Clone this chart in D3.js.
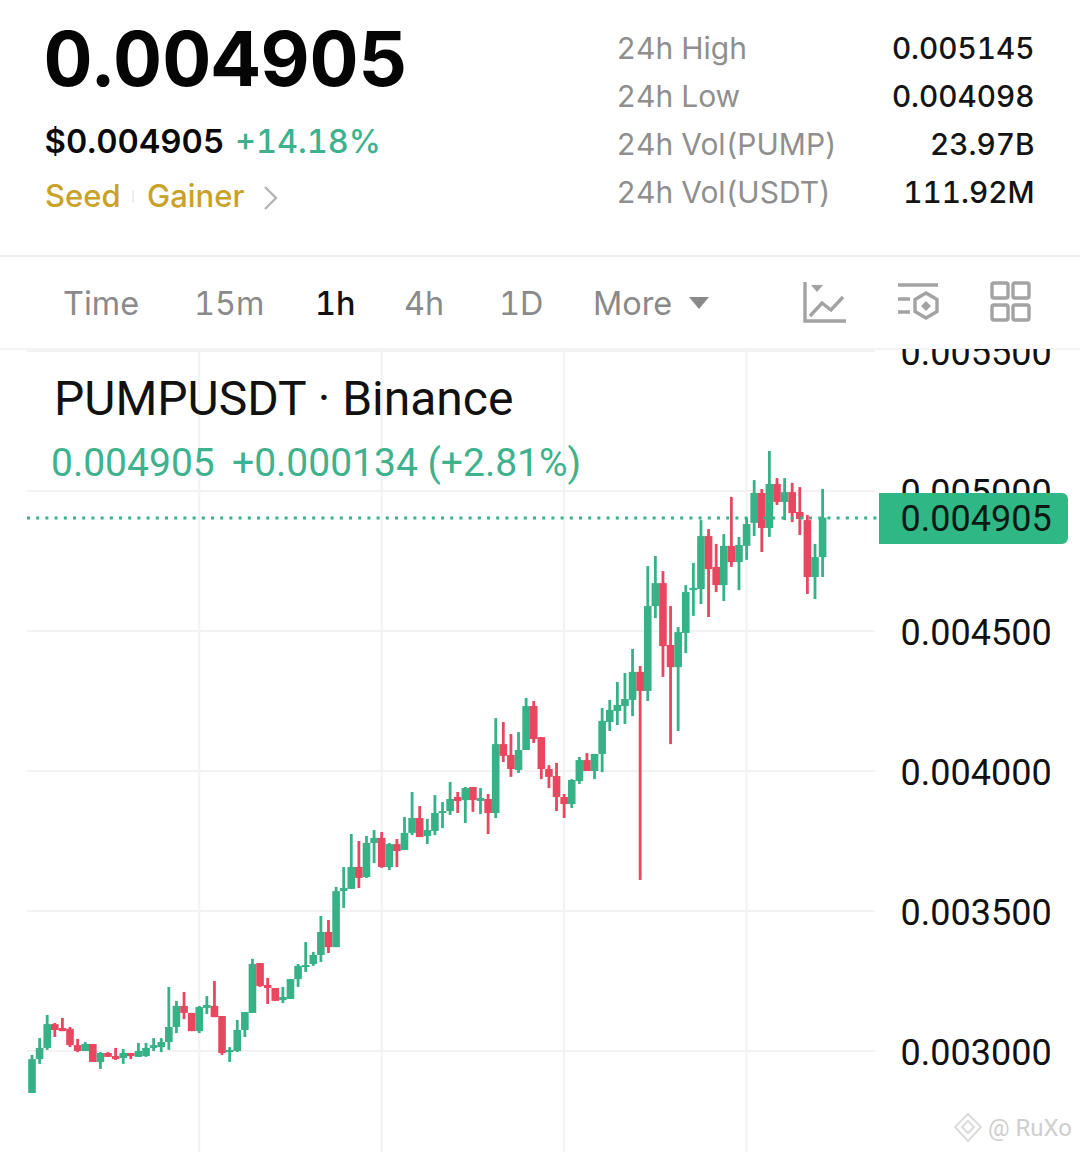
<!DOCTYPE html>
<html><head><meta charset="utf-8">
<script src="https://cdn.jsdelivr.net/npm/d3@7/dist/d3.min.js"></script>
<style>html,body{margin:0;padding:0;background:#fff}svg{display:block}text{font-variant-numeric:tabular-nums}</style>
</head><body><svg id="c" width="1080" height="1152"></svg>
<script>
const openP=[0.002850,0.002971,0.003011,0.003096,0.003082,0.003079,0.003021,0.003000,0.003025,0.002961,0.002993,0.002982,0.002975,0.002993,0.002979,0.002982,0.003011,0.003014,0.003032,0.003086,0.003161,0.003136,0.003071,0.003154,0.003161,0.003125,0.002996,0.003000,0.003075,0.003136,0.003314,0.003236,0.003225,0.003182,0.003186,0.003257,0.003300,0.003311,0.003343,0.003425,0.003371,0.003571,0.003579,0.003657,0.003621,0.003743,0.003761,0.003657,0.003739,0.003718,0.003779,0.003832,0.003768,0.003786,0.003850,0.003857,0.003907,0.003896,0.003943,0.003893,0.003900,0.003850,0.004096,0.004057,0.004004,0.004075,0.004232,0.004121,0.004007,0.003982,0.003907,0.003882,0.003964,0.004039,0.004000,0.004061,0.004175,0.004214,0.004232,0.004254,0.004354,0.004286,0.004589,0.004671,0.004450,0.004371,0.004493,0.004646,0.004650,0.004839,0.004729,0.004664,0.004804,0.004746,0.004804,0.004886,0.004993,0.004868,0.005025,0.004961,0.004996,0.004925,0.004896,0.004693,0.004764];
const highP=[0.002986,0.003046,0.003129,0.003100,0.003118,0.003086,0.003043,0.003032,0.003025,0.002996,0.002996,0.003011,0.003007,0.002993,0.003029,0.003029,0.003046,0.003046,0.003229,0.003179,0.003211,0.003136,0.003161,0.003196,0.003250,0.003125,0.003014,0.003111,0.003139,0.003329,0.003314,0.003261,0.003225,0.003229,0.003257,0.003311,0.003389,0.003354,0.003482,0.003468,0.003586,0.003657,0.003775,0.003750,0.003768,0.003789,0.003782,0.003743,0.003757,0.003836,0.003925,0.003875,0.003829,0.003914,0.003889,0.003961,0.003925,0.003943,0.003943,0.003939,0.003918,0.004189,0.004175,0.004132,0.004139,0.004261,0.004250,0.004121,0.004021,0.004029,0.003918,0.003971,0.004050,0.004064,0.004061,0.004225,0.004254,0.004318,0.004350,0.004436,0.004375,0.004732,0.004768,0.004714,0.004589,0.004514,0.004664,0.004743,0.004896,0.004864,0.004811,0.004846,0.004979,0.004836,0.004904,0.005039,0.005007,0.005143,0.005046,0.005046,0.005029,0.005014,0.004914,0.004811,0.005007];
const lowP=[0.002850,0.002954,0.003004,0.003050,0.003071,0.003014,0.002996,0.003000,0.002961,0.002936,0.002979,0.002968,0.002954,0.002971,0.002979,0.002979,0.003000,0.002996,0.003004,0.003064,0.003114,0.003071,0.003064,0.003132,0.003121,0.002986,0.002961,0.002996,0.003050,0.003136,0.003229,0.003168,0.003179,0.003171,0.003186,0.003229,0.003282,0.003304,0.003318,0.003350,0.003371,0.003511,0.003579,0.003582,0.003618,0.003671,0.003654,0.003646,0.003657,0.003718,0.003771,0.003764,0.003739,0.003771,0.003796,0.003843,0.003850,0.003814,0.003854,0.003846,0.003775,0.003832,0.004032,0.003979,0.003993,0.004075,0.004100,0.003971,0.003939,0.003857,0.003832,0.003868,0.003954,0.004000,0.003971,0.003996,0.004143,0.004164,0.004168,0.004196,0.003611,0.004250,0.004546,0.004336,0.004096,0.004143,0.004421,0.004554,0.004596,0.004550,0.004639,0.004607,0.004729,0.004646,0.004754,0.004839,0.004782,0.004836,0.004950,0.004896,0.004889,0.004843,0.004632,0.004614,0.004693];
const closeP=[0.002971,0.003011,0.003096,0.003075,0.003071,0.003021,0.003000,0.003025,0.002961,0.002993,0.002979,0.002971,0.002993,0.002982,0.003000,0.003011,0.003021,0.003032,0.003086,0.003161,0.003136,0.003071,0.003157,0.003164,0.003121,0.002993,0.003004,0.003075,0.003139,0.003311,0.003232,0.003225,0.003179,0.003193,0.003257,0.003304,0.003307,0.003343,0.003425,0.003371,0.003571,0.003582,0.003657,0.003618,0.003743,0.003761,0.003657,0.003739,0.003714,0.003779,0.003832,0.003764,0.003789,0.003850,0.003857,0.003900,0.003893,0.003939,0.003896,0.003904,0.003850,0.004096,0.004054,0.004007,0.004075,0.004232,0.004114,0.004007,0.003979,0.003907,0.003882,0.003968,0.004039,0.004000,0.004061,0.004179,0.004218,0.004236,0.004257,0.004354,0.004286,0.004589,0.004671,0.004446,0.004371,0.004496,0.004639,0.004654,0.004839,0.004721,0.004664,0.004804,0.004746,0.004807,0.004882,0.004993,0.004868,0.005025,0.004961,0.004996,0.004921,0.004900,0.004693,0.004764,0.004905];
const yTicks=[0.003,0.0035,0.004,0.0045,0.005,0.0055];
const verticalEvery=[22,46,70,94];
const lastPrice=0.004905;
const statLabels=["24h High","24h Low","24h Vol(PUMP)","24h Vol(USDT)"];
const statValues=["0.005145","0.004098","23.97B","111.92M"];
const tabs=["Time","15m","1h","4h","1D","More"];
const tabX=[63,194,315,404,499,593];

const FONT="Roboto, sans-serif", HEAD="Inter, Roboto, sans-serif";
const GREEN="#37B287", RED="#E8475F", GRID="#f2f2f2";
const svg=d3.select("#c");
const T=(s,x,y,size,fill,opt={})=>svg.append("text").text(s).attr("x",x).attr("y",y)
  .attr("font-family",opt.f||HEAD).attr("font-size",size).attr("fill",fill)
  .attr("font-weight",opt.w||400).attr("text-anchor",opt.a||"start");

// header
T("0.004905",43.5,86,76,"#050505",{w:700});
T("$0.004905",44.5,153,33,"#0a0a0a",{w:600});
T("+14.18%",235,153,32.4,"#3DB28C",{w:500});
T("Seed",45,207,31,"#C9A227",{w:500});
svg.append("line").attr("x1",133).attr("x2",133).attr("y1",190).attr("y2",203).attr("stroke","#eee").attr("stroke-width",2);
T("Gainer",147,207,31,"#C9A227",{w:500});
svg.append("path").attr("d","M265 187L276 198L265 209").attr("fill","none").attr("stroke","#b5b5b5").attr("stroke-width",2.4);
statLabels.forEach((s,i)=>{
  T(s,616.5,59+48*i,30,"#8f8f8f",{f:HEAD});
  T(statValues[i],1034.5,59+48*i,29.7,"#141414",{a:"end",w:500});
});
svg.append("line").attr("x1",0).attr("x2",1080).attr("y1",256).attr("y2",256).attr("stroke","#eeeeee").attr("stroke-width",2);

// tabs
tabs.forEach((s,i)=>T(s,tabX[i],315,32.4,s==="1h"?"#111":"#8a8a8a",{w:s==="1h"?500:400}));
svg.append("path").attr("d","M689 297H709L699 309Z").attr("fill","#8a8a8a");
const ic=svg.append("g").attr("fill","none").attr("stroke","#a3a3a3").attr("stroke-width",3.4);
ic.append("path").attr("d","M805 282V321H846M810 316L822 303L831 310L843 297");
ic.append("path").attr("d","M811 285H823L817 292Z").attr("fill","#a3a3a3").attr("stroke","none");
ic.append("path").attr("d","M898 285H938M898 299H910M898 312H910");
ic.append("path").attr("d","M926 293L937 299.5V311.5L926 318L915 311.5V299.5Z");
ic.append("path").attr("d","M926 301L931 306L926 311L921 306Z").attr("fill","#a3a3a3").attr("stroke","none");
[[992,283],[1013,283],[992,305],[1013,305]].forEach(p=>ic.append("rect").attr("x",p[0]).attr("y",p[1]).attr("width",16).attr("height",15).attr("rx",2));

// chart
const y=d3.scaleLinear().domain([0.003,0.005]).range([1051,491]);
const x=d3.scaleLinear().domain([0,openP.length-1]).range([32,822.6]);
const defs=svg.append("defs");
defs.append("clipPath").attr("id","plot").append("rect").attr("x",0).attr("y",349).attr("width",1080).attr("height",803);
defs.append("clipPath").attr("id","plotL").append("rect").attr("x",27).attr("y",349).attr("width",1053).attr("height",803);

svg.append("line").attr("x1",0).attr("x2",1080).attr("y1",349).attr("y2",349).attr("stroke","#f4f4f4").attr("stroke-width",2);
const plot=svg.append("g").attr("clip-path","url(#plot)");
plot.append("g").selectAll("line").data(verticalEvery).join("line")
  .attr("x1",d=>x(d)).attr("x2",d=>x(d)).attr("y1",349).attr("y2",1152).attr("stroke",GRID).attr("stroke-width",2);
const axis=d3.axisRight(y).tickValues(yTicks).tickFormat(d3.format(".6f")).tickSize(0).tickPadding(0);
const gA=plot.append("g").attr("transform","translate(900.5,0.8)").call(axis);
gA.select(".domain").remove();
gA.selectAll("text").attr("font-family",FONT).attr("font-size",36).attr("fill","#111").attr("dy","0.36em").attr("x",0);
plot.append("g").selectAll("line").data(yTicks).join("line")
  .attr("x1",27).attr("x2",875).attr("y1",d=>y(d)).attr("y2",d=>y(d)).attr("stroke",GRID).attr("stroke-width",2);

const idx=d3.range(openP.length);
const candles=svg.append("g").attr("clip-path","url(#plotL)");
const col=i=>closeP[i]>=openP[i]?GREEN:RED;
candles.selectAll("line").data(idx).join("line")
  .attr("x1",i=>x(i)).attr("x2",i=>x(i)).attr("y1",i=>y(highP[i])).attr("y2",i=>y(lowP[i]))
  .attr("stroke",i=>col(i)).attr("stroke-width",2.8);
candles.selectAll("rect").data(idx).join("rect")
  .attr("x",i=>x(i)-3.8).attr("width",7.6)
  .attr("y",i=>Math.min(y(openP[i]),y(closeP[i])))
  .attr("height",i=>Math.max(2,Math.abs(y(openP[i])-y(closeP[i]))))
  .attr("fill",i=>col(i));

svg.append("line").attr("x1",27).attr("x2",879).attr("y1",y(lastPrice)+.5).attr("y2",y(lastPrice)+.5)
  .attr("stroke",GREEN).attr("stroke-width",3).attr("stroke-dasharray","3 6.2");
svg.append("path").attr("d","M879 493H1062a6 6 0 0 1 6 6V538a6 6 0 0 1-6 6H879Z").attr("fill","#2FB785");
T(d3.format(".6f")(lastPrice),900.5,y(lastPrice)+13.8,36,"#0c1a14",{f:FONT});

T("PUMPUSDT · Binance",54,415,48,"#111",{f:FONT});
T("0.004905",51,476,39,"#3DB28C",{f:FONT});
T("+0.000134 (+2.81%)",232,476,39,"#3DB28C",{f:FONT});

// watermark
const w=svg.append("g").attr("fill","none").attr("stroke","#dcdcdc").attr("stroke-width",2);
w.append("path").attr("d","M968 1114L981 1127L968 1141L955 1127ZM968 1121L974 1127L968 1133L962 1127Z");
T("@ RuXo",988,1136,24,"#cfcfcf",{f:FONT});
</script></body></html>
